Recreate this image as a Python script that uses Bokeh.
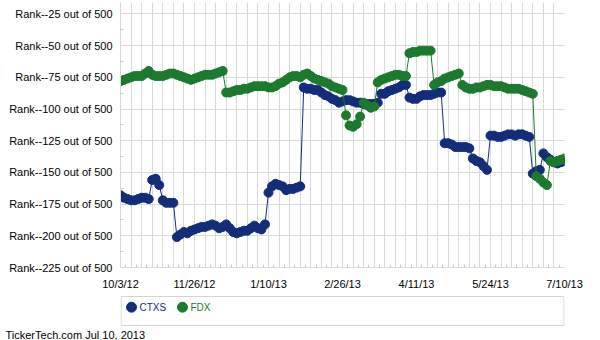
from bokeh.plotting import figure
from bokeh.models import Range1d, FixedTicker, Title
from bokeh.layouts import column
from bokeh.embed import file_html
from bokeh.resources import INLINE
from bokeh.core.properties import value

# ---- data ----
tick_labels = ["10/3/12", "11/26/12", "1/10/13", "2/26/13", "4/11/13", "5/24/13", "7/10/13"]
series_names = ["CTXS", "FDX"]
ctxs = [-168, -170, -171, -172, -172, -171, -170, -170, -171, -156,
        -155, -160, -172, -174, -174, -174, -201, -199, -197, -198,
        -196, -195, -194, -193, -193, -192, -191, -192, -194, -193,
        -191, -194, -197, -198, -197, -196, -196, -194, -192, -194,
        -195, -191, -166, -161, -159, -160, -161, -164, -163, -163,
        -162, -161, -83, -84, -84, -85, -85, -87, -89, -90,
        -92, -93, -95, -94, -93, -93, -94, -95, -95, -96,
        -96, -96, -96, -95, -88, -88, -86, -85, -84, -83,
        -81, -81, -91, -92, -92, -90, -89, -89, -89, -88,
        -87, -87, -127, -127, -128, -130, -130, -130, -130, -131,
        -139, -141, -142, -145, -148, -121, -121, -122, -122, -121,
        -120, -120, -121, -120, -120, -121, -122, -151, -149, -148,
        -135, -138, -140, -142, -143, -142, -141]
fdx = [-78, -77, -76, -75, -74, -74, -74, -72, -70, -73,
       -74, -74, -74, -73, -72, -72, -73, -74, -75, -76,
       -77, -76, -75, -74, -73, -73, -73, -72, -71, -70,
       -87, -87, -86, -85, -85, -84, -84, -83, -82, -82,
       -82, -82, -83, -83, -82, -80, -79, -77, -75, -74,
       -74, -75, -73, -72, -74, -76, -77, -78, -79, -80,
       -82, -83, -84, -85, -105, -113, -114, -112, -106, -95,
       -97, -99, -98, -79, -77, -76, -75, -74, -73, -73,
       -74, -74, -56, -55, -55, -54, -54, -54, -54, -81,
       -79, -78, -76, -75, -74, -73, -72, -81, -83, -84,
       -84, -83, -83, -82, -81, -81, -82, -82, -82, -83,
       -84, -84, -84, -84, -85, -86, -87, -88, -153, -155,
       -158, -160, -141, -142, -141, -140, -139]
y_ticks = [-225, -200, -175, -150, -125, -100, -75, -50, -25]
footer = "TickerTech.com  Jul 10, 2013"

BLUE = "#142d7b"
GREEN = "#1b7a2d"
GRID = "#d9d9d9"
FONT = "Liberation Sans"

n = len(ctxs)
xs = list(range(n))
last = n - 1
label_pos = [round(k * last / (len(tick_labels) - 1)) for k in range(len(tick_labels))]
grid_pos = list(range(0, n, 3))
x_minor = [g + 1.5 for g in grid_pos[:-1]]
y_minor = [t + 12.5 for t in y_ticks[:-1]]

p = figure(width=600, height=292, x_range=Range1d(0, last), y_range=Range1d(-225, -16),
           output_backend="svg", toolbar_location=None,
           min_border_left=120, min_border_right=36, min_border_top=2, min_border_bottom=25)
p.outline_line_color = None
p.background_fill_color = "white"
p.border_fill_color = "white"

p.xgrid.ticker = FixedTicker(ticks=grid_pos)
p.ygrid.ticker = FixedTicker(ticks=y_ticks)
p.grid.grid_line_color = GRID
p.grid.grid_line_width = 1

p.yaxis.ticker = FixedTicker(ticks=y_ticks, minor_ticks=y_minor)
p.yaxis.major_label_overrides = {t: "Rank-%d out of 500" % t for t in y_ticks}
p.xaxis.ticker = FixedTicker(ticks=label_pos, minor_ticks=x_minor)
p.xaxis.major_label_overrides = {pos: lab for pos, lab in zip(label_pos, tick_labels)}
for ax in (p.xaxis, p.yaxis):
    ax.axis_line_color = GRID
    ax.major_tick_in = 0
    ax.major_tick_out = 0
    ax.minor_tick_in = 3
    ax.minor_tick_out = 0
    ax.minor_tick_line_color = "#c8c8c8"
    ax.major_label_text_font = FONT
    ax.major_label_text_font_size = "11px"
    ax.major_label_text_color = "#000000"
p.yaxis.major_label_standoff = 8
p.xaxis.major_label_standoff = 10

p.line(xs, ctxs, color=BLUE, line_width=1)
p.scatter(xs, ctxs, size=9, color=BLUE)
p.line(xs, fdx, color=GREEN, line_width=1)
p.scatter(xs, fdx, size=9, color=GREEN)

# legend + footer panel (frame aligned with the chart: data x == page pixel x)
p2 = figure(frame_width=444, frame_height=34, x_range=Range1d(120, 564), y_range=Range1d(0, 34),
            output_backend="svg", toolbar_location=None,
            min_border_left=120, min_border_right=36, min_border_top=0, min_border_bottom=0,
            x_axis_type=None, y_axis_type=None)
p2.outline_line_color = None
p2.grid.visible = False
p2.background_fill_color = "white"
p2.border_fill_color = "white"
p2.quad(left=[120.5], right=[563.5], top=[30], bottom=[1], fill_color="white",
        line_color="#d4d4d4", line_width=1)
colors = [BLUE, GREEN]
cx = [131, 182]
for name, col, x0 in zip(series_names, colors, cx):
    p2.scatter([x0], [19.3], size=10, color=col)
    p2.text([x0 + 8], [19.3], text=[name], text_color=col, text_font=value(FONT),
            text_font_size=value("10px"), text_baseline="middle", text_align="left")
p2.add_layout(Title(text=footer, align="left", offset=-115, standoff=0,
                    text_font=FONT, text_font_size="11px", text_font_style="normal",
                    text_color="#000000"), "below")

layout = column(p, p2, spacing=0)
open("out.html", "w").write(file_html(layout, INLINE))
